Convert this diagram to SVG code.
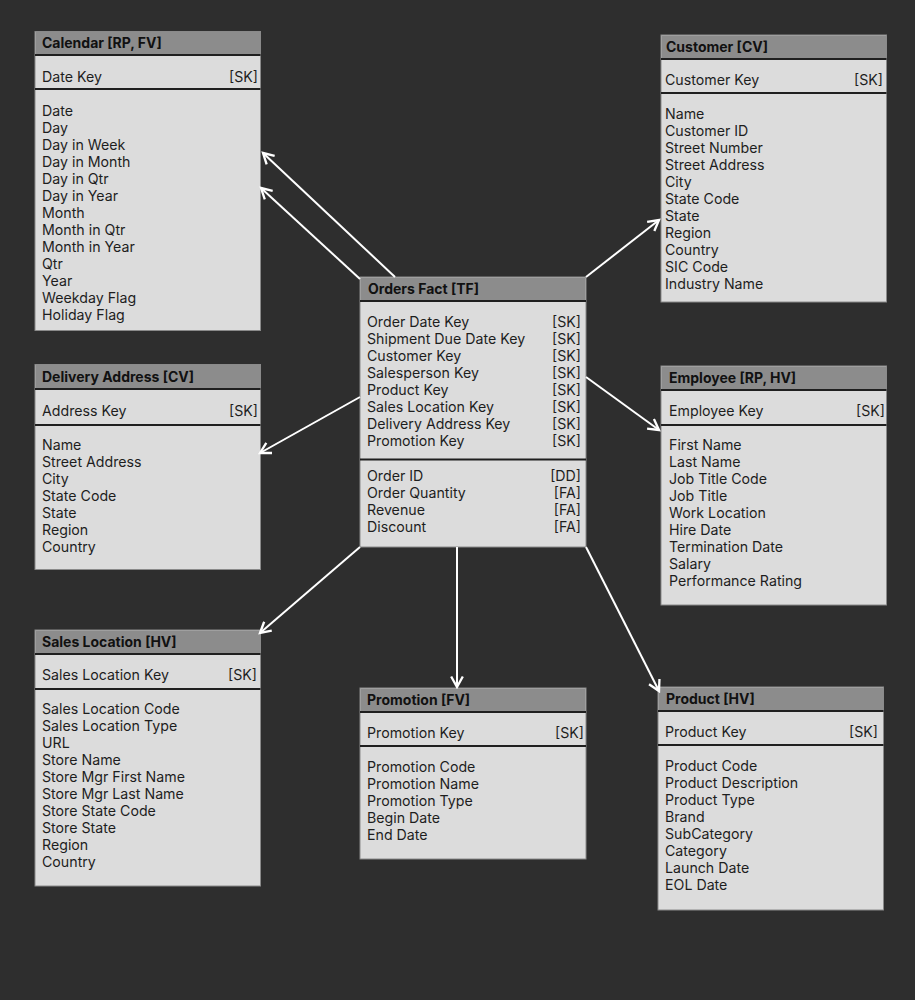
<svg xmlns="http://www.w3.org/2000/svg" width="915" height="1000" viewBox="0 0 915 1000">
<style>
.box{fill:#dcdcdc;stroke:#8a8a8a;stroke-width:1}
.hdr{fill:#8c8c8c}
.div{stroke:#1f1f1f;stroke-width:2}
.t{font-family:Inter,"Liberation Sans",sans-serif;font-size:14.2px;fill:#1e1e1e}
.h{font-family:Inter,"Liberation Sans",sans-serif;font-size:14px;font-weight:700;fill:#111}
.r{text-anchor:end}
.c{stroke:#ffffff;stroke-width:2;fill:none}
</style>
<defs>
<marker id="arr" markerUnits="userSpaceOnUse" markerWidth="14" markerHeight="14" viewBox="0 0 12 12" refX="10" refY="6" orient="auto">
<path d="M1,1 L10,6 L1,11" fill="none" stroke="#ffffff" stroke-width="2"/>
</marker>
</defs>
<rect width="915" height="1000" fill="#2e2e2e"/>

<g id="calendar">
<rect class="box" x="35" y="31.5" width="225.5" height="299"/>
<rect class="hdr" x="35.5" y="32" width="224.5" height="22"/>
<line class="div" x1="35" y1="55" x2="260.5" y2="55"/>
<line class="div" x1="35" y1="89" x2="260.5" y2="89"/>
<text class="h" x="42" y="48">Calendar [RP, FV]</text>
<text class="t" x="42" y="82">Date Key</text><text class="t r" x="258" y="82">[SK]</text>
<text class="t" x="42" y="116">Date</text>
<text class="t" x="42" y="133">Day</text>
<text class="t" x="42" y="150">Day in Week</text>
<text class="t" x="42" y="167">Day in Month</text>
<text class="t" x="42" y="184">Day in Qtr</text>
<text class="t" x="42" y="201">Day in Year</text>
<text class="t" x="42" y="218">Month</text>
<text class="t" x="42" y="235">Month in Qtr</text>
<text class="t" x="42" y="252">Month in Year</text>
<text class="t" x="42" y="269">Qtr</text>
<text class="t" x="42" y="286">Year</text>
<text class="t" x="42" y="303">Weekday Flag</text>
<text class="t" x="42" y="320">Holiday Flag</text>
</g>

<g id="customer">
<rect class="box" x="661" y="35" width="225.5" height="267"/>
<rect class="hdr" x="661.5" y="35.5" width="224.5" height="22.5"/>
<line class="div" x1="661" y1="59" x2="886.5" y2="59"/>
<line class="div" x1="661" y1="93" x2="886.5" y2="93"/>
<text class="h" x="666" y="52">Customer [CV]</text>
<text class="t" x="665" y="85">Customer Key</text><text class="t r" x="883" y="85">[SK]</text>
<text class="t" x="665" y="119">Name</text>
<text class="t" x="665" y="136">Customer ID</text>
<text class="t" x="665" y="153">Street Number</text>
<text class="t" x="665" y="170">Street Address</text>
<text class="t" x="665" y="187">City</text>
<text class="t" x="665" y="204">State Code</text>
<text class="t" x="665" y="221">State</text>
<text class="t" x="665" y="238">Region</text>
<text class="t" x="665" y="255">Country</text>
<text class="t" x="665" y="272">SIC Code</text>
<text class="t" x="665" y="289">Industry Name</text>
</g>

<g id="orders-fact">
<rect class="box" x="360" y="277" width="226" height="270"/>
<rect class="hdr" x="360.5" y="277.5" width="225" height="22.5"/>
<line class="div" x1="360" y1="301" x2="586" y2="301"/>
<line class="div" x1="360" y1="459.5" x2="586" y2="459.5"/>
<text class="h" x="368" y="294">Orders Fact [TF]</text>
<text class="t" x="367" y="327">Order Date Key</text><text class="t r" x="581" y="327">[SK]</text>
<text class="t" x="367" y="344">Shipment Due Date Key</text><text class="t r" x="581" y="344">[SK]</text>
<text class="t" x="367" y="361">Customer Key</text><text class="t r" x="581" y="361">[SK]</text>
<text class="t" x="367" y="378">Salesperson Key</text><text class="t r" x="581" y="378">[SK]</text>
<text class="t" x="367" y="395">Product Key</text><text class="t r" x="581" y="395">[SK]</text>
<text class="t" x="367" y="412">Sales Location Key</text><text class="t r" x="581" y="412">[SK]</text>
<text class="t" x="367" y="429">Delivery Address Key</text><text class="t r" x="581" y="429">[SK]</text>
<text class="t" x="367" y="446">Promotion Key</text><text class="t r" x="581" y="446">[SK]</text>
<text class="t" x="367" y="481">Order ID</text><text class="t r" x="581" y="481">[DD]</text>
<text class="t" x="367" y="498">Order Quantity</text><text class="t r" x="581" y="498">[FA]</text>
<text class="t" x="367" y="515">Revenue</text><text class="t r" x="581" y="515">[FA]</text>
<text class="t" x="367" y="532">Discount</text><text class="t r" x="581" y="532">[FA]</text>
</g>

<g id="delivery-address">
<rect class="box" x="35" y="364.5" width="225.5" height="205"/>
<rect class="hdr" x="35.5" y="365" width="224.5" height="23"/>
<line class="div" x1="35" y1="389" x2="260.5" y2="389"/>
<line class="div" x1="35" y1="425" x2="260.5" y2="425"/>
<text class="h" x="42" y="382">Delivery Address [CV]</text>
<text class="t" x="42" y="416">Address Key</text><text class="t r" x="258" y="416">[SK]</text>
<text class="t" x="42" y="450">Name</text>
<text class="t" x="42" y="467">Street Address</text>
<text class="t" x="42" y="484">City</text>
<text class="t" x="42" y="501">State Code</text>
<text class="t" x="42" y="518">State</text>
<text class="t" x="42" y="535">Region</text>
<text class="t" x="42" y="552">Country</text>
</g>

<g id="employee">
<rect class="box" x="661" y="366" width="225.5" height="239"/>
<rect class="hdr" x="661.5" y="366.5" width="224.5" height="22.5"/>
<line class="div" x1="661" y1="390" x2="886.5" y2="390"/>
<line class="div" x1="661" y1="425" x2="886.5" y2="425"/>
<text class="h" x="669" y="383">Employee [RP, HV]</text>
<text class="t" x="669" y="416">Employee Key</text><text class="t r" x="885" y="416">[SK]</text>
<text class="t" x="669" y="450">First Name</text>
<text class="t" x="669" y="467">Last Name</text>
<text class="t" x="669" y="484">Job Title Code</text>
<text class="t" x="669" y="501">Job Title</text>
<text class="t" x="669" y="518">Work Location</text>
<text class="t" x="669" y="535">Hire Date</text>
<text class="t" x="669" y="552">Termination Date</text>
<text class="t" x="669" y="569">Salary</text>
<text class="t" x="669" y="586">Performance Rating</text>
</g>

<g id="sales-location">
<rect class="box" x="35" y="630" width="225.5" height="256"/>
<rect class="hdr" x="35.5" y="630.5" width="224.5" height="22.5"/>
<line class="div" x1="35" y1="654" x2="260.5" y2="654"/>
<line class="div" x1="35" y1="689" x2="260.5" y2="689"/>
<text class="h" x="42" y="647">Sales Location [HV]</text>
<text class="t" x="42" y="680">Sales Location Key</text><text class="t r" x="257" y="680">[SK]</text>
<text class="t" x="42" y="714">Sales Location Code</text>
<text class="t" x="42" y="731">Sales Location Type</text>
<text class="t" x="42" y="748">URL</text>
<text class="t" x="42" y="765">Store Name</text>
<text class="t" x="42" y="782">Store Mgr First Name</text>
<text class="t" x="42" y="799">Store Mgr Last Name</text>
<text class="t" x="42" y="816">Store State Code</text>
<text class="t" x="42" y="833">Store State</text>
<text class="t" x="42" y="850">Region</text>
<text class="t" x="42" y="867">Country</text>
</g>

<g id="promotion">
<rect class="box" x="360" y="688" width="226" height="171"/>
<rect class="hdr" x="360.5" y="688.5" width="225" height="22.5"/>
<line class="div" x1="360" y1="712" x2="586" y2="712"/>
<line class="div" x1="360" y1="746" x2="586" y2="746"/>
<text class="h" x="367" y="705">Promotion [FV]</text>
<text class="t" x="367" y="738">Promotion Key</text><text class="t r" x="584" y="738">[SK]</text>
<text class="t" x="367" y="772">Promotion Code</text>
<text class="t" x="367" y="789">Promotion Name</text>
<text class="t" x="367" y="806">Promotion Type</text>
<text class="t" x="367" y="823">Begin Date</text>
<text class="t" x="367" y="840">End Date</text>
</g>

<g id="product">
<rect class="box" x="658" y="687" width="225.5" height="223"/>
<rect class="hdr" x="658.5" y="687.5" width="224.5" height="22.5"/>
<line class="div" x1="658" y1="711" x2="883.5" y2="711"/>
<line class="div" x1="658" y1="745" x2="883.5" y2="745"/>
<text class="h" x="666" y="704">Product [HV]</text>
<text class="t" x="665" y="737">Product Key</text><text class="t r" x="878" y="737">[SK]</text>
<text class="t" x="665" y="771">Product Code</text>
<text class="t" x="665" y="788">Product Description</text>
<text class="t" x="665" y="805">Product Type</text>
<text class="t" x="665" y="822">Brand</text>
<text class="t" x="665" y="839">SubCategory</text>
<text class="t" x="665" y="856">Category</text>
<text class="t" x="665" y="873">Launch Date</text>
<text class="t" x="665" y="890">EOL Date</text>
</g>

<g id="connectors">
<line class="c" x1="395" y1="277" x2="263" y2="153" marker-end="url(#arr)"/>
<line class="c" x1="360" y1="279" x2="261" y2="188" marker-end="url(#arr)"/>
<line class="c" x1="586" y1="277" x2="659" y2="220" marker-end="url(#arr)"/>
<line class="c" x1="360" y1="397" x2="260" y2="453" marker-end="url(#arr)"/>
<line class="c" x1="586" y1="377" x2="659" y2="430" marker-end="url(#arr)"/>
<line class="c" x1="360" y1="547" x2="260" y2="633" marker-end="url(#arr)"/>
<line class="c" x1="457" y1="547" x2="457" y2="687" marker-end="url(#arr)"/>
<line class="c" x1="586" y1="547" x2="659" y2="691" marker-end="url(#arr)"/>
</g>
</svg>
